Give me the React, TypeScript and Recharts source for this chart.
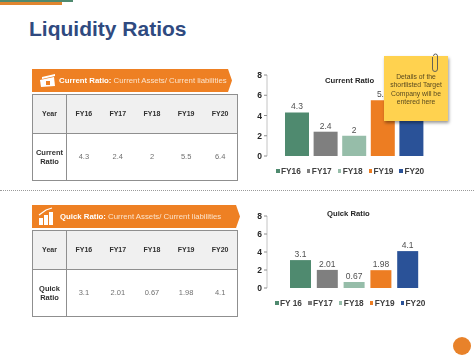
import React from 'react';
import { BarChart, Bar, XAxis, YAxis, Legend, LabelList } from 'recharts';

const years = ['FY16', 'FY17', 'FY18', 'FY19', 'FY20'];
const quickLegend = ['FY 16', 'FY17', 'FY18', 'FY19', 'FY20'];
const currentValues = [4.3, 2.4, 2, 5.5, 6.4];
const quickValues = [3.1, 2.01, 0.67, 1.98, 4.1];
const colors = ['#4F8A6F', '#7F7F7F', '#96BDA9', '#ED7D22', '#2A5298'];
const yTicks = [0, 2, 4, 6, 8];
const FONT = '"Liberation Sans", Arial, sans-serif';
const axisColor = '#8c8c8c';

function abs(left: number, top: number, width: number, height: number): React.CSSProperties {
  return { position: 'absolute', left, top, width, height };
}

function renderLegend(props: any) {
  return (
    <div style={{ display: 'flex', height: 12, alignItems: 'center' }}>
      {(props.payload || []).map((p: any) => (
        <div key={p.value} style={{ display: 'flex', alignItems: 'center', marginRight: 6 }}>
          <span style={{ width: 3.5, height: 3.5, background: p.color, marginRight: 1.5, display: 'inline-block' }} />
          <span style={{ color: '#404040', fontFamily: FONT, fontSize: 8.3, fontWeight: 700, whiteSpace: 'nowrap' }}>{p.value}</span>
        </div>
      ))}
    </div>
  );
}

function RatioChart({ title, names, values, left, top, width, height, marginTop, marginBottom, barSize, gap, catGap, legendTop, legendLeft }: any) {
  const row: any = { name: title };
  names.forEach((n: string, i: number) => { row[n] = values[i]; });
  return (
    <div style={{ ...abs(left, top, width, height), willChange: 'transform' }}>
      <BarChart width={width} height={height} data={[row]} barSize={barSize} barGap={gap} barCategoryGap={catGap}
        margin={{ top: marginTop, right: 0, bottom: marginBottom, left: 0 }}>
        <XAxis dataKey="name" tick={false} tickLine={false} height={0} axisLine={{ stroke: axisColor }} />
        <YAxis width={27} domain={[0, 8]} ticks={yTicks} interval={0} axisLine={{ stroke: '#c4c4c4' }} tickSize={3}
          tickLine={{ stroke: axisColor }} tick={{ fontFamily: FONT, fontSize: 8.5, fontWeight: 700, fill: '#262626' }} />
        <Legend verticalAlign="bottom" content={renderLegend}
          wrapperStyle={{ position: 'absolute', top: legendTop, left: legendLeft, width: 175, height: 12, bottom: 'auto' }} />
        {names.map((n: string, i: number) => (
          <Bar key={n} dataKey={n} fill={colors[i]} isAnimationActive={false}>
            <LabelList dataKey={n} position="top" offset={3} style={{ fontFamily: FONT, fontSize: 8.5, fill: '#505050' }} />
          </Bar>
        ))}
      </BarChart>
    </div>
  );
}

function DataTable({ top, label, values }: { top: number; label: string[]; values: number[] }) {
  const line = '1px solid #8f8f8f';
  const base: React.CSSProperties = { fontFamily: FONT, fontSize: 7, textAlign: 'center', padding: 0 };
  return (
    <table style={{ position: 'absolute', left: 32, top, width: 205, height: 87, borderCollapse: 'collapse', tableLayout: 'fixed', border: line, willChange: 'transform' }}>
      <colgroup>
        <col style={{ width: 34 }} />
        {years.map((y) => <col key={y} style={{ width: 34.2 }} />)}
      </colgroup>
      <tbody>
        <tr style={{ height: 38.5, background: '#F0F0F0', borderBottom: line }}>
          <td style={{ ...base, fontWeight: 700, color: '#303030', borderRight: line }}>Year</td>
          {years.map((y) => <td key={y} style={{ ...base, fontWeight: 700, color: '#303030' }}>{y}</td>)}
        </tr>
        <tr>
          <td style={{ ...base, fontSize: 7.5, fontWeight: 700, color: '#303030', borderRight: line, lineHeight: '9px' }}>{label[0]}<br />{label[1]}</td>
          {values.map((v, i) => <td key={i} style={{ ...base, fontSize: 7.5, color: '#707070' }}>{v}</td>)}
        </tr>
      </tbody>
    </table>
  );
}

function Banner({ top, width, bold, rest, icon, textLeft, fontSize }: any) {
  return (
    <div style={{ ...abs(32, top, width, 23), background: '#EE8023', clipPath: `polygon(0 0, ${width - 4}px 0, ${width}px 50%, ${width - 4}px 100%, 0 100%)`, fontFamily: FONT, fontSize, color: '#FBE3CC', lineHeight: '23px', whiteSpace: 'nowrap', willChange: 'transform' }}>
      <div style={abs(6, 2, 20, 19)}>{icon}</div>
      <span style={{ position: 'absolute', left: textLeft }}><b style={{ color: '#fff' }}>{bold}</b> {rest}</span>
    </div>
  );
}

const moneyIcon = (
  <svg width="20" height="19"><path d="M2 9 L16 6 L17 15 L3 16 Z" fill="#fff" /><path d="M4 6 L17 3 L17 5 L4 8 Z" fill="#fff" /><rect x="8" y="10" width="4" height="4" fill="#EE8023" /></svg>
);
const chartIcon = (
  <svg width="20" height="19"><rect x="1" y="11" width="4" height="7" fill="#fff" /><rect x="6" y="8" width="4" height="10" fill="#fff" /><rect x="11" y="5" width="4" height="13" fill="#fff" /><path d="M1 8 L8 3 L14 1" stroke="#fff" strokeWidth="1.2" fill="none" /></svg>
);

export default function App() {
  return (
    <div style={{ position: 'absolute', left: 0, top: 0, width: 474, height: 355, overflow: 'hidden', background: '#fff' }}>
      <div style={{ ...abs(0, 0, 73, 2), background: '#4F8A6F' }} />
      <div style={{ ...abs(0, 2, 62, 3), background: '#E0852F' }} />
      <div style={{ position: 'absolute', left: 29, top: 16, fontFamily: FONT, fontSize: 21, fontWeight: 700, color: '#2F4A80', lineHeight: '26px', whiteSpace: 'nowrap' }}>Liquidity Ratios</div>

      <Banner top={69} width={200} bold="Current Ratio:" rest="Current Assets/ Current liabilities" icon={moneyIcon} textLeft={27} fontSize={7.8} />
      <DataTable top={94} label={['Current', 'Ratio']} values={currentValues} />

      <div style={{ position: 'absolute', left: 0, top: 190, width: 474, borderTop: '1px dotted #9a9a9a' }} />

      <Banner top={205} width={208} bold="Quick Ratio:" rest="Current Assets/ Current liabilities" icon={chartIcon} textLeft={28} fontSize={7.8} />
      <DataTable top={230} label={['Quick', 'Ratio']} values={quickValues} />

      <RatioChart title="Current Ratio" names={years} values={currentValues} left={240} top={60} width={202} height={125}
        marginTop={15} marginBottom={17} barSize={24} gap={4.6} catGap={17} legendTop={105} legendLeft={36} />
      <RatioChart title="Quick Ratio" names={quickLegend} values={quickValues} left={240} top={200} width={202} height={125}
        marginTop={16} marginBottom={25} barSize={21} gap={5.8} catGap={23} legendTop={97} legendLeft={35} />

      <div style={{ position: 'absolute', left: 325, top: 75.5, fontFamily: FONT, fontSize: 7.7, fontWeight: 700, color: '#262626' }}>Current Ratio</div>
      <div style={{ position: 'absolute', left: 327, top: 208.5, fontFamily: FONT, fontSize: 7.7, fontWeight: 700, color: '#262626' }}>Quick Ratio</div>

      <div style={{ ...abs(384, 56, 64, 65), background: '#FFD24F', boxShadow: '1px 2px 3px rgba(0,0,0,0.4)', fontFamily: FONT, fontSize: 6.8, lineHeight: '8.3px', color: '#5a4a20', textAlign: 'center', boxSizing: 'border-box', paddingTop: 17 }}>
        Details of the<br />shortlisted Target<br />Company will be<br />entered here
      </div>
      <svg style={{ position: 'absolute', left: 430, top: 52 }} width="10" height="22">
        <path d="M2.5 5 V17 A2.5 2.5 0 0 0 7.5 17 V4 A2 2 0 0 0 3.5 4" fill="none" stroke="#555" strokeWidth="0.9" />
      </svg>

      <div style={{ ...abs(453, 337, 18, 18), borderRadius: '50%', background: '#E8822A' }} />
    </div>
  );
}
